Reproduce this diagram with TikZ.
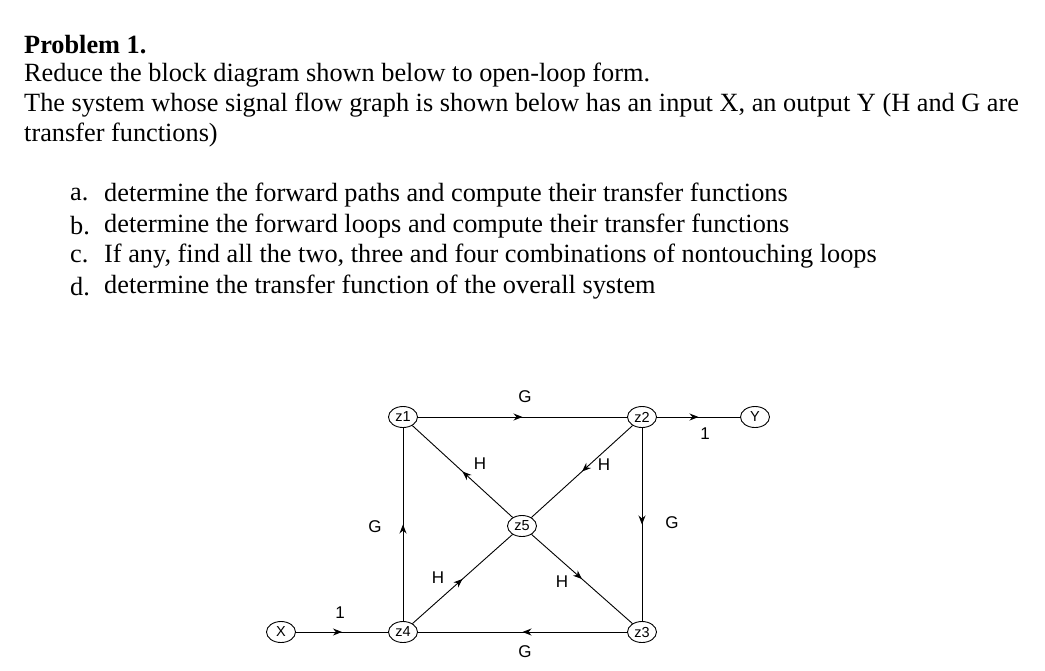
\documentclass[tikz,border=0pt]{standalone}
\usepackage{fontspec}
\setmainfont{Liberation Serif}
\newfontfamily\arialf{Liberation Sans}
\usetikzlibrary{decorations.markings,arrows.meta,shapes.geometric}
\begin{document}
\begin{tikzpicture}[x=1pt,y=-1pt,
  sn/.style={draw,ellipse,line width=0.9pt,minimum width=29pt,minimum height=21pt,inner sep=0pt,font=\arialf\fontsize{14.5}{14.5}\selectfont},
  br/.style={draw,line width=0.9pt,postaction={decorate},decoration={markings,mark=at position 0.5 with {\arrow{Stealth[length=9pt,width=7pt]}}}},
  lb/.style={font=\arialf\fontsize{17}{17}\selectfont},
  tx/.style={anchor=west,inner sep=0pt,font=\fontsize{26.3}{26.3}\selectfont}]
\useasboundingbox (0,0) rectangle (1045,670);
\node[tx] (t0) at (24,45) {\textbf{Problem 1.}};
\node[tx] (t1) at (24,75) {Reduce the block diagram shown below to open-loop form.};
\node[tx] (t2) at (24,105) {The system whose signal flow graph is shown below has an input X, an output Y (H and G are};
\node[tx] (t3) at (24,135) {transfer functions)};
\node[tx] (a1) at (70,195) {a.}; \node[tx] (a2) at (104,195) {determine the forward paths and compute their transfer functions};
\node[tx] (b1) at (70,226) {b.}; \node[tx] (b2) at (104,226) {determine the forward loops and compute their transfer functions};
\node[tx] (c1) at (70,256) {c.}; \node[tx] (c2) at (104,256) {If any, find all the two, three and four combinations of nontouching loops};
\node[tx] (d1) at (70,287) {d.}; \node[tx] (d2) at (104,287) {determine the transfer function of the overall system};
\node[sn] (z1) at (403,417) {z1};
\node[sn] (z2) at (642,417) {z2};
\node[sn] (Y) at (755,417) {Y};
\node[sn] (z5) at (522,526) {z5};
\node[sn] (z4) at (403,632) {z4};
\node[sn] (z3) at (642,632) {z3};
\node[sn] (X) at (281,632) {X};
\draw[br] (z1) -- (z2);
\draw[br] (z2) -- (Y);
\draw[br] (z4) -- (z1);
\draw[br] (z2) -- (z3);
\draw[br] (z3) -- (z4);
\draw[br] (X) -- (z4);
\draw[br] (z5) -- (z1);
\draw[br] (z2) -- (z5);
\draw[br] (z5) -- (z3);
\draw[br] (z4) -- (z5);
\node[lb] (l1) at (525,397) {G};
\node[lb] (l2) at (705,434) {1};
\node[lb] (l3) at (480,464) {H};
\node[lb] (l4) at (604,465) {H};
\node[lb] (l5) at (375,527) {G};
\node[lb] (l6) at (672,523) {G};
\node[lb] (l7) at (438,578) {H};
\node[lb] (l8) at (562,582) {H};
\node[lb] (l9) at (340,613) {1};
\node[lb] (l10) at (525,652) {G};
\end{tikzpicture}
\end{document}
